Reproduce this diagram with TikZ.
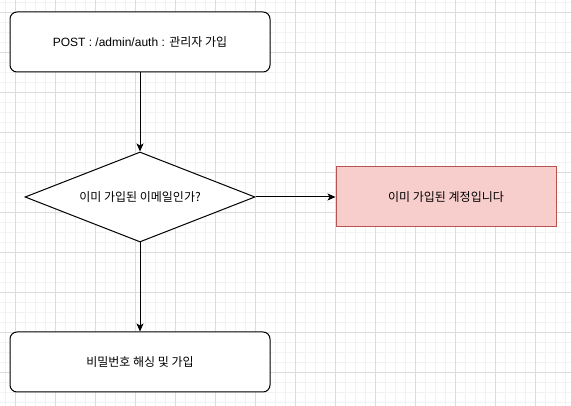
\documentclass[tikz,border=0pt]{standalone}
\usepackage{fontspec}
\setmainfont{Liberation Sans}
\newfontfamily\kr{Noto Sans CJK KR}
\usetikzlibrary{arrows.meta,shapes.geometric}
\definecolor{gridmajor}{HTML}{DCDCDC}
\definecolor{gridminor}{HTML}{F2F2F2}
\definecolor{redfill}{HTML}{F8CECC}
\definecolor{redline}{HTML}{B85450}
\tikzset{
  proc/.style={draw=black, line width=1pt, rounded corners=7pt, fill=white, minimum width=260pt, minimum height=60pt, font=\fontsize{12}{14}\selectfont},
  decision/.style={draw=black, line width=1pt, diamond, aspect=2.555, fill=white, minimum width=230pt, minimum height=90pt, inner sep=0pt, font=\fontsize{12}{14}\selectfont},
  alert/.style={draw=redline, line width=1pt, fill=redfill, minimum width=220pt, minimum height=60pt, font=\fontsize{12}{14}\selectfont},
  flow/.style={draw=black, line width=1pt, -{Stealth[length=8pt,width=7pt,inset=2pt]}},
}
\begin{document}
\begin{tikzpicture}[x=1pt,y=-1pt]
\useasboundingbox (0,0) rectangle (571,406);
\fill[white] (0,0) rectangle (571,406);
% grid minor
\foreach \i in {0,...,57} {
  \draw[gridminor, line width=0.8pt] ({5.7+10*\i},0) -- ({5.7+10*\i},406);
}
\foreach \j in {0,...,40} {
  \draw[gridminor, line width=0.8pt] (0,{2.5+10*\j}) -- (571,{2.5+10*\j});
}
% grid major
\foreach \i in {0,...,14} {
  \draw[gridmajor, line width=0.8pt] ({15.7+40*\i},0) -- ({15.7+40*\i},406);
}
\foreach \j in {0,...,10} {
  \draw[gridmajor, line width=0.8pt] (0,{12.5+40*\j}) -- (571,{12.5+40*\j});
}
\node[proc] (start) at (140,42) {POST : /admin/auth : {\kr 관리자 가입}};
\node[decision] (check) at (140,197) {\kr 이미 가입된 이메일인가?};
\node[alert] (exists) at (446,197) {\kr 이미 가입된 계정입니다};
\node[proc] (signup) at (140,362) {\kr 비밀번호 해싱 및 가입};
\draw[flow] (start.south) -- (check.north);
\draw[flow] (check.east) -- (exists.west);
\draw[flow] (check.south) -- (signup.north);
\end{tikzpicture}
\end{document}
